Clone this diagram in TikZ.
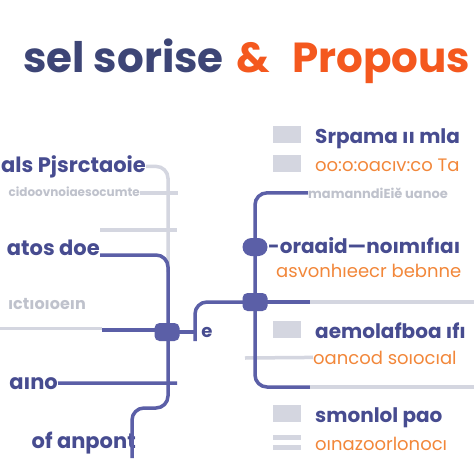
\documentclass[tikz,border=0pt]{standalone}
\usepackage{fontspec}
\setmainfont{Poppins}
\usepackage{xcolor}
\usetikzlibrary{calc}

\definecolor{titlenavy}{HTML}{3D4576}
\definecolor{textnavy}{HTML}{474C90}
\definecolor{linenavy}{HTML}{5B5FA7}
\definecolor{titleorange}{HTML}{F4581E}
\definecolor{textorange}{HTML}{F2873A}
\definecolor{lightgrey}{HTML}{D4D6E0}
\definecolor{greytext}{HTML}{BFC2CC}

\begin{document}
\begin{tikzpicture}[x=1pt,y=-1pt,
    navyline/.style={draw=linenavy, line width=3.5pt, rounded corners=12pt},
    greyline/.style={draw=lightgrey, line width=3.5pt, rounded corners=12pt},
    juncbox/.style={fill=linenavy, rounded corners=5pt, minimum width=25pt, minimum height=18pt, inner sep=0pt},
    bigtitle/.style={font=\fontsize{42}{42}\selectfont\bfseries, inner sep=0pt, anchor=base west},
    lefttext/.style={font=\fontsize{21}{21}\selectfont\bfseries, text=textnavy, inner sep=0pt, anchor=base east},
    headtext/.style={font=\fontsize{20}{20}\selectfont\bfseries, text=textnavy, inner sep=0pt, anchor=base west},
    subtext/.style={font=\fontsize{18}{18}\selectfont, text=textorange, inner sep=0pt, anchor=base west},
    smalltext/.style={font=\fontsize{12}{12}\selectfont\bfseries, text=greytext, inner sep=0pt}]
    \useasboundingbox[fill=white] (0,0) rectangle (474,474);

    % Title
    \node[bigtitle, text=titlenavy, anchor=base east] (ttlA) at (224,72) {sel sorise};
    \node[bigtitle, text=titleorange] (amp) at (236,72) {\&};
    \node[bigtitle, text=titleorange] (ttlB) at (292,72) {Propous};

    % Left column
    \node[lefttext] (l1) at (146,172) {als Pjsrctaoie};
    \node[smalltext, anchor=base east] (l1s) at (140,196) {cidoovnoiaesocumte};
    \node[lefttext] (l2) at (100,255) {atos doe};
    \node[lefttext, text=greytext, font=\fontsize{16}{16}\selectfont\bfseries] (l3) at (86,309) {ıctıoıoeın};
    \node[lefttext] (l4) at (58,389) {aıno};
    \node[lefttext] (l5) at (136,448) {of anpont};
    \coordinate (barend) at (102,330);
    \coordinate (l5foot) at (132,458);

    % Right column
    \foreach \y in {126,155,321,405}
        \fill[lightgrey] (273,\y) rectangle (301,\y+17);
    \foreach \y in {435,445}
        \fill[lightgrey] (273,\y) rectangle (301,\y+5);
    \node[headtext] (r1) at (315,143) {Srpama ıı mla};
    \node[subtext] (r2) at (315,171) {oo:o:oacıv:co Ta};
    \node[smalltext, anchor=base west, font=\fontsize{13}{13}\selectfont\bfseries] (r3) at (308,198) {mamanndiEiĕ uanoe};
    \node[headtext] (r4) at (268,253) {-oraaid—noımıfıaı};
    \node[subtext] (r5) at (276,277) {asvonhıeecr bebnne};
    \node[headtext] (r6) at (315,338) {aemolafboa ıfı};
    \node[subtext] (r7) at (313,364) {oancod soıocıal};
    \node[headtext] (r8) at (315,422) {smonlol pao};
    \node[subtext] (r9) at (315,450) {oınazoorlonocı};
    \coordinate (midend) at (474,302);
    \coordinate (lowend) at (474,387);

    % Grey guide lines
    \draw[greyline] (l1.east) -| (168,272);
    \draw[greyline] (140,193) -- (178,193);
    \draw[greyline] (100,230) -- (177,230);
    \fill[lightgrey] (0,327) rectangle (barend);
    \draw[greyline] (245,358) -- (r7.west);

    % Navy connectors
    \draw[navyline] (l2.base east) -| (168,408) -| (l5foot);
    \draw[navyline] (l4.east) -- (177,383);
    \draw[navyline] (barend) -- (167,330);
    \draw[navyline] (r3.west) -| (255,387) -- (310,387);
    \draw[greyline] (310,387) -- (lowend);
    \draw[navyline] (255,302) -- (310,302);
    \draw[draw=lightgrey, line width=3.5pt] (310,302) -- (midend);
    \draw[navyline] (167,332) -- (195,332);
    \draw[navyline] (195,341) |- (255,302);

    % Junctions
    \node[juncbox] (j1) at (167,332) {};
    \node[juncbox, rounded corners=9pt] (j2) at (255,247) {};
    \node[juncbox] (j3) at (255,302) {};
    \node[font=\fontsize{18}{18}\selectfont\bfseries, text=textnavy, inner sep=0pt] (je) at (207,332) {e};
\end{tikzpicture}
\end{document}
